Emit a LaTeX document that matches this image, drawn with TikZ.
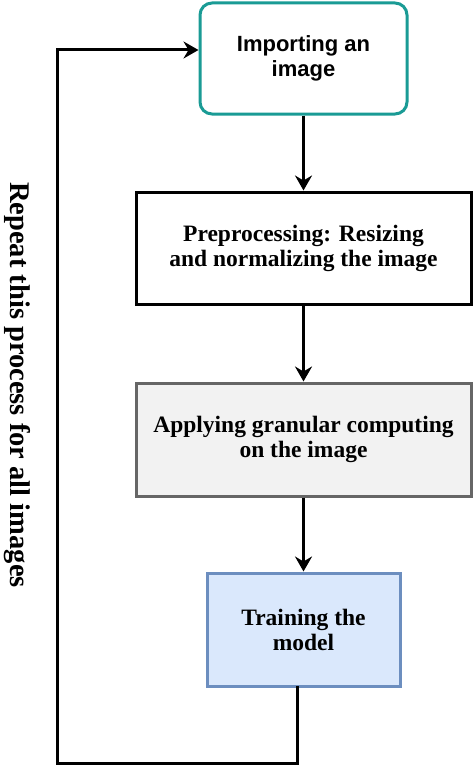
\documentclass[tikz,border=0pt]{standalone}
\usepackage{fontspec}
\setmainfont{Liberation Serif}
\newfontfamily\boxsans{Liberation Sans}
\usetikzlibrary{arrows.meta}
\definecolor{tealb}{HTML}{1A9B95}
\definecolor{grayb}{HTML}{666666}
\definecolor{grayf}{HTML}{F2F2F2}
\definecolor{blueb}{HTML}{6C8EBF}
\definecolor{bluef}{HTML}{DAE8FC}
\tikzset{
  boxbase/.style={draw, line width=3pt, align=center, inner sep=4pt},
  startbox/.style={boxbase, draw=tealb, fill=white, rounded corners=12pt,
    font=\boxsans\bfseries\fontsize{22}{25}\selectfont},
  plainbox/.style={boxbase, draw=black, fill=white,
    font=\bfseries\fontsize{23.5}{25}\selectfont},
  graybox/.style={boxbase, draw=grayb, fill=grayf,
    font=\bfseries\fontsize{23.5}{25}\selectfont},
  bluebox/.style={boxbase, draw=blueb, fill=bluef,
    font=\bfseries\fontsize{23.5}{25}\selectfont},
  flow/.style={line width=3pt, -{Stealth[length=15pt,width=17pt,inset=5pt]}},
  loopline/.style={line width=3pt},
  sidelabel/.style={rotate=-90, font=\bfseries\fontsize{28.5}{30}\selectfont}
}
\begin{document}
\begin{tikzpicture}[x=1pt,y=-1pt]
\useasboundingbox (0,0) rectangle (474,768);
\node[startbox, minimum width=207pt, minimum height=111pt] (imp) at (303.5,58.5) {Importing an\\image};
\node[plainbox, minimum width=335pt, minimum height=112pt] (pre) at (303.5,248) {Preprocessing: Resizing\\and normalizing the image};
\node[graybox, minimum width=335pt, minimum height=113pt] (gra) at (303.5,439.5) {Applying granular computing\\on the image};
\node[bluebox, minimum width=193pt, minimum height=113pt] (trn) at (303.5,629.5) {Training the\\model};
\node[sidelabel] (lbl) at (17,385) {Repeat this process for all images};
\coordinate (cl) at (57,763);
\coordinate (ts) at ([xshift=-6.5pt]trn.south);
\draw[flow] (imp) -- (pre);
\draw[flow] (pre) -- (gra);
\draw[flow] (gra) -- (trn);
\draw[loopline, line cap=rect] (ts) -- (ts |- cl) -- (cl);
\draw[flow] (cl) |- ([yshift=8.5pt]imp.west);
\end{tikzpicture}
\end{document}
